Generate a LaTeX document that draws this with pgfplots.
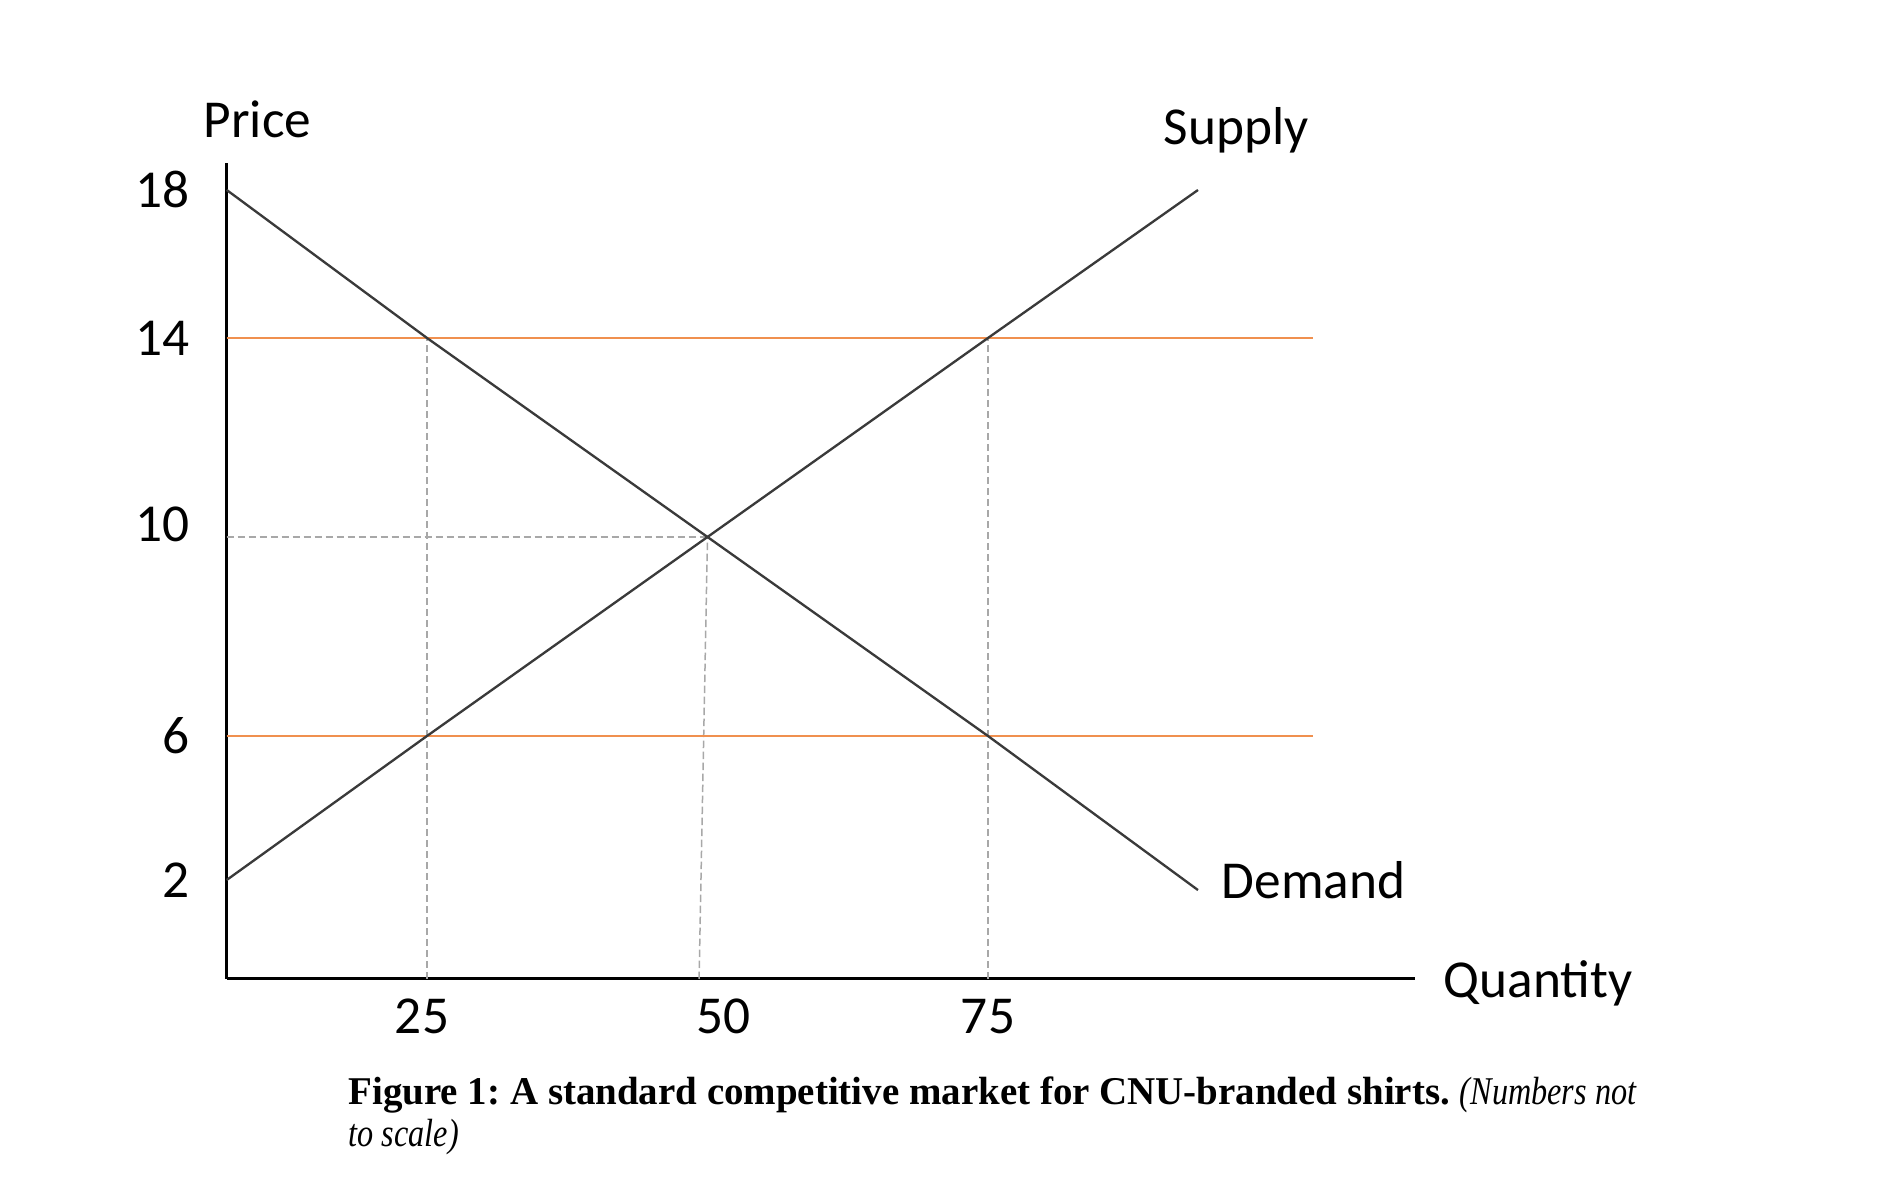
\documentclass[border=0pt]{standalone}
\usepackage{pgfplots}
\pgfplotsset{compat=1.18}
\usepackage{fontspec}
\setmainfont{Carlito}
\newfontfamily\capbf[FakeStretch=0.99]{Liberation Serif}
\newfontfamily\capit[FakeStretch=0.82]{Liberation Serif}
\frenchspacing

\definecolor{curve}{HTML}{3A3A3A}
\definecolor{pricefloor}{HTML}{F0904F}
\definecolor{guide}{HTML}{A8A8A8}

% piecewise maps: the diagram is "not to scale", the outer segments are compressed
\newcommand{\qmap}[1]{%
  {\pgfkeys{/pgf/fpu=true}%
   \pgfmathparse{(#1)<=25 ? 8.012*(#1) : ((#1)<=75 ? 200.3+((#1)-25)*11.22 : 761.3+((#1)-75)*8.4)}%
   \pgfmathfloattofixed{\pgfmathresult}%
   \xdef\mapres{\pgfmathresult}}\let\pgfmathresult\mapres}
\newcommand{\pmap}[1]{%
  {\pgfkeys{/pgf/fpu=true}%
   \pgfmathparse{(#1)<=6 ? 99+((#1)-2)*36 : ((#1)<=14 ? 243+((#1)-6)*49.75 : 641+((#1)-14)*37)}%
   \pgfmathfloattofixed{\pgfmathresult}%
   \xdef\mapres{\pgfmathresult}}\let\pgfmathresult\mapres}

\begin{document}
\begin{tikzpicture}
\useasboundingbox (-68.01pt,-64.8pt) rectangle (497.19pt,293.7pt);
\begin{axis}[
  x=0.3pt, y=0.3pt,
  x coord trafo/.code={\qmap{#1}},
  y coord trafo/.code={\pmap{#1}},
  xmin=0, xmax=125.83, ymin=-0.75, ymax=18.73,
  axis lines=left,
  axis line style={-, black, line width=0.9pt},
  clip=false,
  major tick length=0pt,
  xtick={25,50,75},
  xticklabels={25\kern3pt, \kern9.6pt50, 75},
  ytick={2,6,10,14,18},
  yticklabels={2,6,\raisebox{7.8pt}{10},14,18},
  tick label style={font=\fontsize{16}{19}\selectfont, inner sep=0pt},
  xticklabel style={anchor=north, yshift=-5.8pt},
  yticklabel style={anchor=east, xshift=-11pt},
]
% guide lines to the axes
\addplot[guide, line width=0.45pt, dash pattern=on 2.2pt off 1.1pt] coordinates {(0,10) (50,10)};
\addplot[guide, line width=0.45pt, dash pattern=on 2.2pt off 1.1pt] coordinates {(25,-0.75) (25,14)};
\addplot[guide, line width=0.45pt, dash pattern=on 2.2pt off 1.1pt] coordinates {(49.25,-0.75) (50,10)};
\addplot[guide, line width=0.45pt, dash pattern=on 2.2pt off 1.1pt] coordinates {(75,-0.75) (75,14)};
% price lines
\addplot[pricefloor, line width=0.8pt] coordinates {(0,14) (113.7,14)};
\addplot[pricefloor, line width=0.8pt] coordinates {(0,6) (113.7,6)};
% supply and demand
\addplot[curve, line width=0.7pt] coordinates {(0,2) (25,6) (50,10) (75,14) (100,18)};
\addplot[curve, line width=0.7pt] coordinates {(0,18) (25,14) (50,10) (75,6) (100,1.72)};
\end{axis}

\begin{scope}[x=0.3pt, y=-0.3pt, xshift=-68.01pt, yshift=293.7pt]
\begin{scope}[font=\fontsize{16}{19}\selectfont]
\node[anchor=base west, inner sep=0pt] at (203,138) {Price};
\node[anchor=base west, inner sep=0pt] at (1163,145) {Supply};
\node[anchor=base west, inner sep=0pt] at (1221,898) {Demand};
\node[anchor=base west, inner sep=0pt] at (1443,997) {Quantity};
\end{scope}
\node[anchor=base west, inner sep=0pt] at (348,1104)
  {\fontsize{11.8}{14}\selectfont\capbf\bfseries Figure 1: A standard competitive market for CNU-branded shirts. \capit\mdseries\itshape(Numbers not};
\node[anchor=base west, inner sep=0pt] at (348,1146)
  {\fontsize{11.8}{14}\selectfont\capit\itshape to scale)};
\end{scope}
\end{tikzpicture}
\end{document}
